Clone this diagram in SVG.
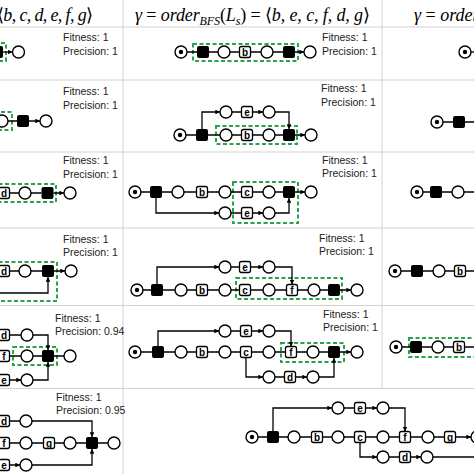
<svg xmlns="http://www.w3.org/2000/svg" width="474" height="474" viewBox="0 0 474 474">
<style>
.grid{stroke:#d2d2d2;stroke-width:1;fill:none}
.pl{fill:#fff;stroke:#000;stroke-width:1.4}
.lb{fill:#fff;stroke:#000;stroke-width:1.3}
.lt{font-family:"Liberation Sans",Arial,sans-serif;font-weight:bold;font-size:10px;text-anchor:middle;fill:#000}
.e{fill:none;stroke:#000;stroke-width:1.3;marker-end:url(#ar)}
.n{fill:none;stroke:#000;stroke-width:1.3}
.gb{fill:none;stroke:#2ba24c;stroke-width:2;stroke-dasharray:4 2.5}
.ft{font-family:"Liberation Sans",Arial,sans-serif;font-size:10.5px;fill:#222}
.hd{font-family:"Liberation Serif","Times New Roman",serif;font-size:18px;fill:#000}
.it{font-style:italic}
.sb{font-size:12px}
</style>
<defs>
<marker id="ar" viewBox="0 0 6 6" refX="6" refY="3" markerWidth="3.6" markerHeight="3.6" orient="auto"><path d="M0,0 L6,3 L0,6 z" fill="#000"/></marker>
<g id="P"><circle r="6" class="pl"/></g>
<g id="S"><circle r="6" class="pl"/><circle r="2.2" fill="#000"/></g>
<g id="T"><rect x="-6" y="-6" width="12" height="12" rx="2" fill="#000"/></g>
<g id="L"><rect x="-5.5" y="-5.5" width="11" height="11" rx="2" class="lb"/></g>
</defs>
<rect width="474" height="474" fill="#fff"/>
<g id="grid">
<path class="grid" d="M0,27H474M0,80H474M0,152H474M0,228H474M0,305.5H474M0,388.5H474M123,0V474M382,0V388.5"/>
</g>
<g id="headers">
<text class="hd" x="-3" y="21" textLength="96" lengthAdjust="spacing">⟨<tspan class="it">b, c, d, e, f, g</tspan>⟩</text>
<text class="hd" x="135" y="21" textLength="235" lengthAdjust="spacing"><tspan class="it">γ</tspan> = <tspan class="it">order</tspan><tspan class="it sb" dy="4">BFS</tspan><tspan dy="-4">(</tspan><tspan class="it">L</tspan><tspan class="it sb" dy="4">s</tspan><tspan dy="-4">) = ⟨</tspan><tspan class="it">b, e, c, f, d, g</tspan>⟩</text>
<text class="hd" x="414" y="21"><tspan class="it">γ</tspan> = <tspan class="it">order</tspan></text>
</g>
<g id="scores">
<text class="ft" x="63" y="41">Fitness: 1</text><text class="ft" x="63" y="55">Precision: 1</text>
<text class="ft" x="322" y="41">Fitness: 1</text><text class="ft" x="322" y="55">Precision: 1</text>
<text class="ft" x="63" y="95">Fitness: 1</text><text class="ft" x="63" y="109">Precision: 1</text>
<text class="ft" x="321" y="92">Fitness: 1</text><text class="ft" x="321" y="106">Precision: 1</text>
<text class="ft" x="63" y="164">Fitness: 1</text><text class="ft" x="63" y="178">Precision: 1</text>
<text class="ft" x="322" y="164">Fitness: 1</text><text class="ft" x="322" y="177">Precision: 1</text>
<text class="ft" x="63" y="243">Fitness: 1</text><text class="ft" x="63" y="256">Precision: 1</text>
<text class="ft" x="319" y="242">Fitness: 1</text><text class="ft" x="319" y="255">Precision: 1</text>
<text class="ft" x="55" y="322">Fitness: 1</text><text class="ft" x="55" y="335">Precision: 0.94</text>
<text class="ft" x="323" y="318">Fitness: 1</text><text class="ft" x="323" y="331">Precision: 1</text>
<text class="ft" x="56" y="401">Fitness: 1</text><text class="ft" x="56" y="414">Precision: 0.95</text>
</g>
<g id="highlights">
<rect class="gb" x="-12" y="43" width="18" height="18"/>
<rect class="gb" x="193" y="44" width="105" height="17"/>
<rect class="gb" x="-12" y="112" width="24" height="18"/>
<rect class="gb" x="216" y="126" width="81" height="18"/>
<rect class="gb" x="-8" y="184" width="64" height="18"/>
<rect class="gb" x="233" y="182" width="65" height="41"/>
<rect class="gb" x="-8" y="262" width="65" height="39"/>
<rect class="gb" x="236" y="278" width="106" height="21"/>
<rect class="gb" x="13" y="347" width="44" height="18"/>
<rect class="gb" x="281" y="343" width="63" height="19"/>
<rect class="gb" x="409" y="338" width="80" height="19"/>
</g>
<g id="connectors">
<!-- row 1 -->
<path class="e" d="M3,52H12.5"/>
<path class="e" d="M187,52H197M209,52H218M230,52H239.5M250.5,52H261M273,52H283M295,52H304"/>
<path class="e" d="M471,52H480"/>
<!-- row 2 -->
<path class="e" d="M8,121H17M29,121H40"/>
<path class="e" d="M186,135H196M208,135H220M232,135H241.5M252.5,135H263M275,135H283M295,135H305"/>
<path class="e" d="M202,129V112H220"/>
<path class="e" d="M232,112H241.5M252.5,112H263"/>
<path class="e" d="M275,112H289V129"/>
<path class="e" d="M443,122H453M465,122H480"/>
<!-- row 3 -->
<path class="e" d="M9.5,193H19M31,193H41.5M53.5,193H64"/>
<path class="e" d="M141,192H150M162,192H172M184,192H196.5M207.5,192H219M231,192H241.5M252.5,192H263M275,192H283M295,192H305"/>
<path class="e" d="M156,198V213H219"/>
<path class="e" d="M231,213H241.5M252.5,213H263"/>
<path class="e" d="M275,213H289V198"/>
<path class="e" d="M423,192H430M442,192H452M464,192H480"/>
<!-- row 4 -->
<path class="e" d="M9.5,271H19M31,271H42M54,271H65"/>
<path class="e" d="M-2,293H48V277"/>
<path class="e" d="M143,290H151M163,290H175M187,290H196.5M207.5,290H219M231,290H239.5M250.5,290H263M275,290H286.5M297.5,290H308M320,290H328M340,290H351"/>
<path class="e" d="M157,284V267H219"/>
<path class="e" d="M231,267H239.5M250.5,267H263"/>
<path class="e" d="M275,267H292V284.5"/>
<path class="e" d="M401,271H411M423,271H433M445,271H454.5M465.5,271H480"/>
<!-- row 5 -->
<path class="e" d="M9.5,335H21M9.5,356H21M33,356H42M54,356H64M9.5,380H21"/>
<path class="e" d="M33,335H48V350"/>
<path class="e" d="M33,380H48V362"/>
<path class="e" d="M141,352H152M164,352H175M187,352H196.5M207.5,352H219M231,352H240.5M251.5,352H263M275,352H285.5M296.5,352H307M319,352H328M340,352H351"/>
<path class="e" d="M158,346V331H219"/>
<path class="e" d="M231,331H240.5M251.5,331H263"/>
<path class="e" d="M275,331H291V346.5"/>
<path class="e" d="M246,357.5V377H263"/>
<path class="e" d="M275,377H284.5M295.5,377H307"/>
<path class="e" d="M319,377H334V358"/>
<path class="e" d="M402,347H410M422,347H432M444,347H453.5M464.5,347H480"/>
<!-- row 6 -->
<path class="e" d="M9.5,421H20M9.5,443H20M32,443H43.5M54.5,443H64M76,443H86M98,443H108M9.5,465H20"/>
<path class="e" d="M32,421H92V437"/>
<path class="e" d="M32,465H92V449"/>
<path class="e" d="M258,437H267M279,437H288M300,437H311.5M322.5,437H332M344,437H354.5M365.5,437H377M389,437H399.5M410.5,437H422M434,437H444.5M455.5,437H471"/>
<path class="e" d="M273,431V408H332"/>
<path class="e" d="M344,408H354.5M365.5,408H377"/>
<path class="e" d="M389,408H405V431.5"/>
<path class="e" d="M360,442.5V457H377"/>
<path class="e" d="M389,457H399.5M410.5,457H421"/>
<path class="n" d="M433,457H476"/>
</g>
<g id="nodes">
<!-- row 1 col1 -->
<g id="r1a-t1"><use href="#T" x="-3" y="52"/></g>
<g id="r1a-p1"><use href="#P" x="18.5" y="52"/></g>
<!-- row 1 col2 -->
<g id="r1b-s"><use href="#S" x="181" y="52"/></g>
<g id="r1b-t1"><use href="#T" x="203" y="52"/></g>
<g id="r1b-p1"><use href="#P" x="224" y="52"/></g>
<g id="r1b-b"><use href="#L" x="245" y="52"/><text class="lt" x="245" y="55.5">b</text></g>
<g id="r1b-p2"><use href="#P" x="267" y="52"/></g>
<g id="r1b-t2"><use href="#T" x="289" y="52"/></g>
<g id="r1b-p3"><use href="#P" x="310" y="52"/></g>
<!-- row 1 col3 -->
<g id="r1c-s"><use href="#S" x="465" y="52"/></g>
<!-- row 2 col1 -->
<g id="r2a-p1"><use href="#P" x="2" y="121"/></g>
<g id="r2a-t1"><use href="#T" x="23" y="121"/></g>
<g id="r2a-p2"><use href="#P" x="46" y="121"/></g>
<!-- row 2 col2 -->
<g id="r2b-s"><use href="#S" x="180" y="135"/></g>
<g id="r2b-t1"><use href="#T" x="202" y="135"/></g>
<g id="r2b-p1"><use href="#P" x="226" y="135"/></g>
<g id="r2b-b"><use href="#L" x="247" y="135"/><text class="lt" x="247" y="138.5">b</text></g>
<g id="r2b-p2"><use href="#P" x="269" y="135"/></g>
<g id="r2b-t2"><use href="#T" x="289" y="135"/></g>
<g id="r2b-p3"><use href="#P" x="311" y="135"/></g>
<g id="r2b-p4"><use href="#P" x="226" y="112"/></g>
<g id="r2b-e"><use href="#L" x="247" y="112"/><text class="lt" x="247" y="115.5">e</text></g>
<g id="r2b-p5"><use href="#P" x="269" y="112"/></g>
<!-- row 2 col3 -->
<g id="r2c-s"><use href="#S" x="437" y="122"/></g>
<g id="r2c-t1"><use href="#T" x="459" y="122"/></g>
<!-- row 3 col1 -->
<g id="r3a-d"><use href="#L" x="4" y="193"/><text class="lt" x="4" y="196.5">d</text></g>
<g id="r3a-p1"><use href="#P" x="25" y="193"/></g>
<g id="r3a-t1"><use href="#T" x="47.5" y="193"/></g>
<g id="r3a-p2"><use href="#P" x="70" y="193"/></g>
<!-- row 3 col2 -->
<g id="r3b-s"><use href="#S" x="135" y="192"/></g>
<g id="r3b-t1"><use href="#T" x="156" y="192"/></g>
<g id="r3b-p1"><use href="#P" x="178" y="192"/></g>
<g id="r3b-b"><use href="#L" x="202" y="192"/><text class="lt" x="202" y="195.5">b</text></g>
<g id="r3b-p2"><use href="#P" x="225" y="192"/></g>
<g id="r3b-c"><use href="#L" x="247" y="192"/><text class="lt" x="247" y="195.5">c</text></g>
<g id="r3b-p3"><use href="#P" x="269" y="192"/></g>
<g id="r3b-t2"><use href="#T" x="289" y="192"/></g>
<g id="r3b-p4"><use href="#P" x="311" y="192"/></g>
<g id="r3b-p5"><use href="#P" x="225" y="213"/></g>
<g id="r3b-e"><use href="#L" x="247" y="213"/><text class="lt" x="247" y="216.5">e</text></g>
<g id="r3b-p6"><use href="#P" x="269" y="213"/></g>
<!-- row 3 col3 -->
<g id="r3c-s"><use href="#S" x="417" y="192"/></g>
<g id="r3c-t1"><use href="#T" x="436" y="192"/></g>
<g id="r3c-p1"><use href="#P" x="458" y="192"/></g>
<!-- row 4 col1 -->
<g id="r4a-d"><use href="#L" x="4" y="271"/><text class="lt" x="4" y="274.5">d</text></g>
<g id="r4a-p1"><use href="#P" x="25" y="271"/></g>
<g id="r4a-t1"><use href="#T" x="48" y="271"/></g>
<g id="r4a-p2"><use href="#P" x="71" y="271"/></g>
<!-- row 4 col2 -->
<g id="r4b-s"><use href="#S" x="137" y="290"/></g>
<g id="r4b-t1"><use href="#T" x="157" y="290"/></g>
<g id="r4b-p1"><use href="#P" x="181" y="290"/></g>
<g id="r4b-b"><use href="#L" x="202" y="290"/><text class="lt" x="202" y="293.5">b</text></g>
<g id="r4b-p2"><use href="#P" x="225" y="290"/></g>
<g id="r4b-c"><use href="#L" x="245" y="290"/><text class="lt" x="245" y="293.5">c</text></g>
<g id="r4b-p3"><use href="#P" x="269" y="290"/></g>
<g id="r4b-f"><use href="#L" x="292" y="290"/><text class="lt" x="292" y="293.5">f</text></g>
<g id="r4b-p4"><use href="#P" x="314" y="290"/></g>
<g id="r4b-t2"><use href="#T" x="334" y="290"/></g>
<g id="r4b-p5"><use href="#P" x="357" y="290"/></g>
<g id="r4b-p6"><use href="#P" x="225" y="267"/></g>
<g id="r4b-e"><use href="#L" x="245" y="267"/><text class="lt" x="245" y="270.5">e</text></g>
<g id="r4b-p7"><use href="#P" x="269" y="267"/></g>
<!-- row 4 col3 -->
<g id="r4c-s"><use href="#S" x="395" y="271"/></g>
<g id="r4c-t1"><use href="#T" x="417" y="271"/></g>
<g id="r4c-p1"><use href="#P" x="439" y="271"/></g>
<g id="r4c-b"><use href="#L" x="460" y="271"/><text class="lt" x="460" y="274.5">b</text></g>
<!-- row 5 col1 -->
<g id="r5a-d"><use href="#L" x="4" y="335"/><text class="lt" x="4" y="338.5">d</text></g>
<g id="r5a-p1"><use href="#P" x="27" y="335"/></g>
<g id="r5a-f"><use href="#L" x="4" y="356"/><text class="lt" x="4" y="359.5">f</text></g>
<g id="r5a-p2"><use href="#P" x="27" y="356"/></g>
<g id="r5a-t1"><use href="#T" x="48" y="356"/></g>
<g id="r5a-p3"><use href="#P" x="70" y="356"/></g>
<g id="r5a-e"><use href="#L" x="4" y="380"/><text class="lt" x="4" y="383.5">e</text></g>
<g id="r5a-p4"><use href="#P" x="27" y="380"/></g>
<!-- row 5 col2 -->
<g id="r5b-s"><use href="#S" x="135" y="352"/></g>
<g id="r5b-t1"><use href="#T" x="158" y="352"/></g>
<g id="r5b-p1"><use href="#P" x="181" y="352"/></g>
<g id="r5b-b"><use href="#L" x="202" y="352"/><text class="lt" x="202" y="355.5">b</text></g>
<g id="r5b-p2"><use href="#P" x="225" y="352"/></g>
<g id="r5b-c"><use href="#L" x="246" y="352"/><text class="lt" x="246" y="355.5">c</text></g>
<g id="r5b-p3"><use href="#P" x="269" y="352"/></g>
<g id="r5b-f"><use href="#L" x="291" y="352"/><text class="lt" x="291" y="355.5">f</text></g>
<g id="r5b-p4"><use href="#P" x="313" y="352"/></g>
<g id="r5b-t2"><use href="#T" x="334" y="352"/></g>
<g id="r5b-p5"><use href="#P" x="357" y="352"/></g>
<g id="r5b-p6"><use href="#P" x="225" y="331"/></g>
<g id="r5b-e"><use href="#L" x="246" y="331"/><text class="lt" x="246" y="334.5">e</text></g>
<g id="r5b-p7"><use href="#P" x="269" y="331"/></g>
<g id="r5b-p8"><use href="#P" x="269" y="377"/></g>
<g id="r5b-d"><use href="#L" x="290" y="377"/><text class="lt" x="290" y="380.5">d</text></g>
<g id="r5b-p9"><use href="#P" x="313" y="377"/></g>
<!-- row 5 col3 -->
<g id="r5c-s"><use href="#S" x="396" y="347"/></g>
<g id="r5c-t1"><use href="#T" x="416" y="347"/></g>
<g id="r5c-p1"><use href="#P" x="438" y="347"/></g>
<g id="r5c-b"><use href="#L" x="459" y="347"/><text class="lt" x="459" y="350.5">b</text></g>
<!-- row 6 col1 -->
<g id="r6a-d"><use href="#L" x="4" y="421"/><text class="lt" x="4" y="424.5">d</text></g>
<g id="r6a-p1"><use href="#P" x="26" y="421"/></g>
<g id="r6a-f"><use href="#L" x="4" y="443"/><text class="lt" x="4" y="446.5">f</text></g>
<g id="r6a-p2"><use href="#P" x="26" y="443"/></g>
<g id="r6a-g"><use href="#L" x="49" y="443"/><text class="lt" x="49" y="446.5">g</text></g>
<g id="r6a-p3"><use href="#P" x="70" y="443"/></g>
<g id="r6a-t1"><use href="#T" x="92" y="443"/></g>
<g id="r6a-p4"><use href="#P" x="114" y="443"/></g>
<g id="r6a-e"><use href="#L" x="4" y="465"/><text class="lt" x="4" y="468.5">e</text></g>
<g id="r6a-p5"><use href="#P" x="26" y="465"/></g>
<!-- row 6 col2-3 -->
<g id="r6b-s"><use href="#S" x="252" y="437"/></g>
<g id="r6b-t1"><use href="#T" x="273" y="437"/></g>
<g id="r6b-p1"><use href="#P" x="294" y="437"/></g>
<g id="r6b-b"><use href="#L" x="317" y="437"/><text class="lt" x="317" y="440.5">b</text></g>
<g id="r6b-p2"><use href="#P" x="338" y="437"/></g>
<g id="r6b-c"><use href="#L" x="360" y="437"/><text class="lt" x="360" y="440.5">c</text></g>
<g id="r6b-p3"><use href="#P" x="383" y="437"/></g>
<g id="r6b-f"><use href="#L" x="405" y="437"/><text class="lt" x="405" y="440.5">f</text></g>
<g id="r6b-p4"><use href="#P" x="428" y="437"/></g>
<g id="r6b-g"><use href="#L" x="450" y="437"/><text class="lt" x="450" y="440.5">g</text></g>
<g id="r6b-p5"><use href="#P" x="477" y="437"/></g>
<g id="r6b-p6"><use href="#P" x="338" y="408"/></g>
<g id="r6b-e"><use href="#L" x="360" y="408"/><text class="lt" x="360" y="411.5">e</text></g>
<g id="r6b-p7"><use href="#P" x="383" y="408"/></g>
<g id="r6b-p8"><use href="#P" x="383" y="457"/></g>
<g id="r6b-d"><use href="#L" x="405" y="457"/><text class="lt" x="405" y="460.5">d</text></g>
<g id="r6b-p9"><use href="#P" x="427" y="457"/></g>
</g>
</svg>
